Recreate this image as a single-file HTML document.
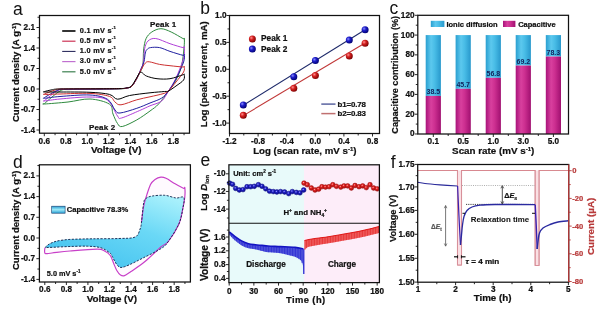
<!DOCTYPE html>
<html><head><meta charset="utf-8"><style>
html,body{margin:0;padding:0;background:#fff;width:600px;height:309px;overflow:hidden}
svg{display:block;font-family:"Liberation Sans", sans-serif;will-change:transform}
</style></head><body>
<svg width="600" height="309" viewBox="0 0 600 309">
<rect x="0" y="0" width="600" height="309" fill="#fff"/>
<text x="17.9" y="15.3" font-size="17.5" text-anchor="middle" font-weight="normal" fill="#111" style="">a</text>
<rect x="39.5" y="15.5" width="150.0" height="117.69999999999999" fill="none" stroke="#111" stroke-width="1.25" />
<line x1="36.5" y1="27.5" x2="39.5" y2="27.5" stroke="#111" stroke-width="0.9" />
<text x="35.0" y="30.0" font-size="8.2" text-anchor="end" font-weight="bold" fill="#111" stroke="#111" stroke-width="0.22" style="">2.1</text>
<line x1="36.5" y1="48.0" x2="39.5" y2="48.0" stroke="#111" stroke-width="0.9" />
<text x="35.0" y="50.5" font-size="8.2" text-anchor="end" font-weight="bold" fill="#111" stroke="#111" stroke-width="0.22" style="">1.4</text>
<line x1="36.5" y1="68.5" x2="39.5" y2="68.5" stroke="#111" stroke-width="0.9" />
<text x="35.0" y="71.0" font-size="8.2" text-anchor="end" font-weight="bold" fill="#111" stroke="#111" stroke-width="0.22" style="">0.7</text>
<line x1="36.5" y1="89.0" x2="39.5" y2="89.0" stroke="#111" stroke-width="0.9" />
<text x="35.0" y="91.5" font-size="8.2" text-anchor="end" font-weight="bold" fill="#111" stroke="#111" stroke-width="0.22" style="">0.0</text>
<line x1="36.5" y1="109.5" x2="39.5" y2="109.5" stroke="#111" stroke-width="0.9" />
<text x="35.0" y="112.0" font-size="8.2" text-anchor="end" font-weight="bold" fill="#111" stroke="#111" stroke-width="0.22" style="">-0.7</text>
<line x1="36.5" y1="130.0" x2="39.5" y2="130.0" stroke="#111" stroke-width="0.9" />
<text x="35.0" y="132.5" font-size="8.2" text-anchor="end" font-weight="bold" fill="#111" stroke="#111" stroke-width="0.22" style="">-1.4</text>
<line x1="37.5" y1="17.25" x2="39.5" y2="17.25" stroke="#111" stroke-width="0.9" />
<line x1="37.5" y1="37.75" x2="39.5" y2="37.75" stroke="#111" stroke-width="0.9" />
<line x1="37.5" y1="58.25" x2="39.5" y2="58.25" stroke="#111" stroke-width="0.9" />
<line x1="37.5" y1="78.75" x2="39.5" y2="78.75" stroke="#111" stroke-width="0.9" />
<line x1="37.5" y1="99.25" x2="39.5" y2="99.25" stroke="#111" stroke-width="0.9" />
<line x1="37.5" y1="119.75" x2="39.5" y2="119.75" stroke="#111" stroke-width="0.9" />
<line x1="44.3" y1="133.2" x2="44.3" y2="136.2" stroke="#111" stroke-width="0.9" />
<text x="44.3" y="143.8" font-size="8.2" text-anchor="middle" font-weight="bold" fill="#111" stroke="#111" stroke-width="0.22" style="">0.6</text>
<line x1="55.05" y1="133.2" x2="55.05" y2="135.2" stroke="#111" stroke-width="0.9" />
<line x1="65.8" y1="133.2" x2="65.8" y2="136.2" stroke="#111" stroke-width="0.9" />
<text x="65.8" y="143.8" font-size="8.2" text-anchor="middle" font-weight="bold" fill="#111" stroke="#111" stroke-width="0.22" style="">0.8</text>
<line x1="76.55" y1="133.2" x2="76.55" y2="135.2" stroke="#111" stroke-width="0.9" />
<line x1="87.3" y1="133.2" x2="87.3" y2="136.2" stroke="#111" stroke-width="0.9" />
<text x="87.3" y="143.8" font-size="8.2" text-anchor="middle" font-weight="bold" fill="#111" stroke="#111" stroke-width="0.22" style="">1.0</text>
<line x1="98.05" y1="133.2" x2="98.05" y2="135.2" stroke="#111" stroke-width="0.9" />
<line x1="108.8" y1="133.2" x2="108.8" y2="136.2" stroke="#111" stroke-width="0.9" />
<text x="108.8" y="143.8" font-size="8.2" text-anchor="middle" font-weight="bold" fill="#111" stroke="#111" stroke-width="0.22" style="">1.2</text>
<line x1="119.55" y1="133.2" x2="119.55" y2="135.2" stroke="#111" stroke-width="0.9" />
<line x1="130.3" y1="133.2" x2="130.3" y2="136.2" stroke="#111" stroke-width="0.9" />
<text x="130.3" y="143.8" font-size="8.2" text-anchor="middle" font-weight="bold" fill="#111" stroke="#111" stroke-width="0.22" style="">1.4</text>
<line x1="141.05" y1="133.2" x2="141.05" y2="135.2" stroke="#111" stroke-width="0.9" />
<line x1="151.8" y1="133.2" x2="151.8" y2="136.2" stroke="#111" stroke-width="0.9" />
<text x="151.8" y="143.8" font-size="8.2" text-anchor="middle" font-weight="bold" fill="#111" stroke="#111" stroke-width="0.22" style="">1.6</text>
<line x1="162.55" y1="133.2" x2="162.55" y2="135.2" stroke="#111" stroke-width="0.9" />
<line x1="173.3" y1="133.2" x2="173.3" y2="136.2" stroke="#111" stroke-width="0.9" />
<text x="173.3" y="143.8" font-size="8.2" text-anchor="middle" font-weight="bold" fill="#111" stroke="#111" stroke-width="0.22" style="">1.8</text>
<line x1="184.05" y1="133.2" x2="184.05" y2="135.2" stroke="#111" stroke-width="0.9" />
<text x="116.3" y="153.0" font-size="9.8" text-anchor="middle" font-weight="bold" fill="#111" stroke="#111" stroke-width="0.22" style="">Voltage (V)</text>
<text x="19.0" y="72.3" font-size="9.5" text-anchor="middle" font-weight="bold" fill="#111" stroke="#111" stroke-width="0.22" transform="rotate(-90 19.0 72.3)" style="">Current density (A g<tspan font-size="62%" baseline-shift="55%">-1</tspan>)</text>
<line x1="62.2" y1="31.0" x2="75.5" y2="31.0" stroke="#000" stroke-width="1.6" />
<text x="79.8" y="32.8" font-size="7.3" text-anchor="start" font-weight="bold" fill="#111" stroke="#111" stroke-width="0.22" style="letter-spacing:0.3px">0.1 mV s<tspan font-size="58%" baseline-shift="100%">-1</tspan></text>
<line x1="62.2" y1="41.2" x2="75.5" y2="41.2" stroke="#cc3355" stroke-width="1.2" />
<text x="79.8" y="43.0" font-size="7.3" text-anchor="start" font-weight="bold" fill="#111" stroke="#111" stroke-width="0.22" style="letter-spacing:0.3px">0.5 mV s<tspan font-size="58%" baseline-shift="100%">-1</tspan></text>
<line x1="62.2" y1="51.4" x2="75.5" y2="51.4" stroke="#1a1a50" stroke-width="1.0" />
<text x="79.8" y="53.199999999999996" font-size="7.3" text-anchor="start" font-weight="bold" fill="#111" stroke="#111" stroke-width="0.22" style="letter-spacing:0.3px">1.0 mV s<tspan font-size="58%" baseline-shift="100%">-1</tspan></text>
<line x1="62.2" y1="61.599999999999994" x2="75.5" y2="61.599999999999994" stroke="#c070d0" stroke-width="1.2" />
<text x="79.8" y="63.39999999999999" font-size="7.3" text-anchor="start" font-weight="bold" fill="#111" stroke="#111" stroke-width="0.22" style="letter-spacing:0.3px">3.0 mV s<tspan font-size="58%" baseline-shift="100%">-1</tspan></text>
<line x1="62.2" y1="71.8" x2="75.5" y2="71.8" stroke="#3c8050" stroke-width="1.2" />
<text x="79.8" y="73.6" font-size="7.3" text-anchor="start" font-weight="bold" fill="#111" stroke="#111" stroke-width="0.22" style="letter-spacing:0.3px">5.0 mV s<tspan font-size="58%" baseline-shift="100%">-1</tspan></text>
<text x="163.2" y="26.7" font-size="8" text-anchor="middle" font-weight="bold" fill="#111" stroke="#111" stroke-width="0.22" style="letter-spacing:0.2px">Peak 1</text>
<text x="102.2" y="129.6" font-size="8" text-anchor="middle" font-weight="bold" fill="#111" stroke="#111" stroke-width="0.22" style="letter-spacing:0.2px">Peak 2</text>
<path d="M44.50,103.50 C47.08,101.42 55.75,93.32 60.00,91.00 C64.25,88.68 63.33,89.90 70.00,89.60 C76.67,89.30 91.50,89.33 100.00,89.20 C108.50,89.07 116.50,89.00 121.00,88.80 C125.50,88.60 125.17,88.47 127.00,88.00 C128.83,87.53 130.33,87.67 132.00,86.00 C133.67,84.33 135.50,80.58 137.00,78.00 C138.50,75.42 140.05,72.50 141.00,70.50 C141.95,68.50 142.32,68.08 142.70,66.00 C143.08,63.92 143.13,60.85 143.30,58.00 C143.47,55.15 143.23,52.15 143.70,48.90 C144.17,45.65 144.75,41.32 146.10,38.50 C147.45,35.68 149.33,33.63 151.80,32.00 C154.27,30.37 157.67,28.70 160.90,28.70 C164.13,28.70 167.53,30.37 171.20,32.00 C174.87,33.63 180.72,37.42 182.90,38.50 C185.08,39.58 184.12,36.92 184.30,38.50 C184.48,40.08 184.47,43.42 184.00,48.00 C183.53,52.58 182.83,60.67 181.50,66.00 C180.17,71.33 178.17,75.83 176.00,80.00 C173.83,84.17 171.38,87.02 168.50,91.00 C165.62,94.98 161.78,100.57 158.70,103.90 C155.62,107.23 153.65,108.33 150.00,111.00 C146.35,113.67 141.42,117.32 136.80,119.90 C132.18,122.48 125.52,125.90 122.30,126.50 C119.08,127.10 119.05,125.58 117.50,123.50 C115.95,121.42 114.35,117.23 113.00,114.00 C111.65,110.77 113.23,106.60 109.40,104.10 C105.57,101.60 96.90,99.35 90.00,99.00 C83.10,98.65 75.58,101.17 68.00,102.00 C60.42,102.83 48.42,103.75 44.50,104.00 C40.58,104.25 44.50,103.58 44.50,103.50" stroke="#2e8a3e" stroke-width="1.0" fill="none" stroke-linejoin="round" />
<path d="M44.50,100.50 C46.75,98.83 54.08,92.35 58.00,90.50 C61.92,88.65 61.00,89.65 68.00,89.40 C75.00,89.15 91.17,89.13 100.00,89.00 C108.83,88.87 116.50,88.77 121.00,88.60 C125.50,88.43 125.17,88.43 127.00,88.00 C128.83,87.57 130.33,87.67 132.00,86.00 C133.67,84.33 135.50,80.83 137.00,78.00 C138.50,75.17 139.92,71.70 141.00,69.00 C142.08,66.30 142.90,65.15 143.50,61.80 C144.10,58.45 143.87,52.35 144.60,48.90 C145.33,45.45 146.05,42.83 147.90,41.10 C149.75,39.37 152.02,38.07 155.70,38.50 C159.38,38.93 165.47,42.18 170.00,43.70 C174.53,45.22 180.53,47.05 182.90,47.60 C185.27,48.15 184.08,45.27 184.20,47.00 C184.32,48.73 184.97,52.83 183.60,58.00 C182.23,63.17 178.52,72.50 176.00,78.00 C173.48,83.50 170.90,87.17 168.50,91.00 C166.10,94.83 164.68,98.53 161.60,101.00 C158.52,103.47 153.65,104.22 150.00,105.80 C146.35,107.38 144.45,108.47 139.70,110.50 C134.95,112.53 125.20,117.08 121.50,118.00 C117.80,118.92 119.83,118.97 117.50,116.00 C115.17,113.03 112.08,103.37 107.50,100.20 C102.92,97.03 97.92,97.20 90.00,97.00 C82.08,96.80 67.58,98.33 60.00,99.00 C52.42,99.67 47.08,100.75 44.50,101.00 C41.92,101.25 44.50,100.58 44.50,100.50" stroke="#b040d8" stroke-width="1.0" fill="none" stroke-linejoin="round" />
<path d="M44.50,97.50 C46.75,96.25 54.42,91.38 58.00,90.00 C61.58,88.62 59.00,89.37 66.00,89.20 C73.00,89.03 90.83,89.10 100.00,89.00 C109.17,88.90 116.50,88.77 121.00,88.60 C125.50,88.43 125.17,88.43 127.00,88.00 C128.83,87.57 130.33,87.67 132.00,86.00 C133.67,84.33 135.50,80.83 137.00,78.00 C138.50,75.17 139.83,71.70 141.00,69.00 C142.17,66.30 143.28,64.47 144.00,61.80 C144.72,59.13 144.80,55.05 145.30,53.00 C145.80,50.95 146.13,50.40 147.00,49.50 C147.87,48.60 148.40,47.92 150.50,47.60 C152.60,47.28 156.35,46.97 159.60,47.60 C162.85,48.23 166.12,50.12 170.00,51.40 C173.88,52.68 180.53,54.78 182.90,55.30 C185.27,55.82 184.08,53.38 184.20,54.50 C184.32,55.62 184.97,57.92 183.60,62.00 C182.23,66.08 178.52,74.17 176.00,79.00 C173.48,83.83 170.90,87.82 168.50,91.00 C166.10,94.18 164.68,96.10 161.60,98.10 C158.52,100.10 154.13,101.30 150.00,103.00 C145.87,104.70 141.80,106.63 136.80,108.30 C131.80,109.97 123.63,112.72 120.00,113.00 C116.37,113.28 117.08,112.28 115.00,110.00 C112.92,107.72 111.67,101.80 107.50,99.30 C103.33,96.80 97.92,95.47 90.00,95.00 C82.08,94.53 67.58,95.95 60.00,96.50 C52.42,97.05 47.08,98.13 44.50,98.30 C41.92,98.47 44.50,97.63 44.50,97.50" stroke="#2020a0" stroke-width="1.0" fill="none" stroke-linejoin="round" />
<path d="M44.50,94.00 C46.25,93.33 52.08,90.83 55.00,90.00 C57.92,89.17 54.50,89.20 62.00,89.00 C69.50,88.80 90.17,88.87 100.00,88.80 C109.83,88.73 116.50,88.73 121.00,88.60 C125.50,88.47 125.17,88.43 127.00,88.00 C128.83,87.57 130.33,87.67 132.00,86.00 C133.67,84.33 135.50,80.67 137.00,78.00 C138.50,75.33 139.62,72.48 141.00,70.00 C142.38,67.52 143.93,64.47 145.30,63.10 C146.67,61.73 146.82,61.58 149.20,61.80 C151.58,62.02 156.13,63.75 159.60,64.40 C163.07,65.05 166.12,65.27 170.00,65.70 C173.88,66.13 180.53,66.87 182.90,67.00 C185.27,67.13 184.08,65.67 184.20,66.50 C184.32,67.33 184.97,69.42 183.60,72.00 C182.23,74.58 178.52,78.83 176.00,82.00 C173.48,85.17 170.67,89.05 168.50,91.00 C166.33,92.95 166.08,92.73 163.00,93.70 C159.92,94.67 154.37,95.78 150.00,96.80 C145.63,97.82 141.63,98.47 136.80,99.80 C131.97,101.13 124.63,104.43 121.00,104.80 C117.37,105.17 116.93,103.40 115.00,102.00 C113.07,100.60 113.57,97.83 109.40,96.40 C105.23,94.97 98.23,93.80 90.00,93.40 C81.77,93.00 67.58,93.82 60.00,94.00 C52.42,94.18 47.08,94.50 44.50,94.50 C41.92,94.50 44.50,94.08 44.50,94.00" stroke="#cc3030" stroke-width="1.0" fill="none" stroke-linejoin="round" />
<path d="M44.50,91.50 C45.75,91.22 49.42,90.22 52.00,89.80 C54.58,89.38 52.00,89.17 60.00,89.00 C68.00,88.83 90.00,88.87 100.00,88.80 C110.00,88.73 115.67,88.73 120.00,88.60 C124.33,88.47 124.15,88.35 126.00,88.00 C127.85,87.65 129.43,88.00 131.10,86.50 C132.77,85.00 134.48,81.38 136.00,79.00 C137.52,76.62 139.03,73.12 140.20,72.20 C141.37,71.28 141.93,72.85 143.00,73.50 C144.07,74.15 144.27,75.23 146.60,76.10 C148.93,76.97 153.10,78.27 157.00,78.70 C160.90,79.13 165.68,79.35 170.00,78.70 C174.32,78.05 180.53,75.50 182.90,74.80 C185.27,74.10 184.08,73.63 184.20,74.50 C184.32,75.37 184.97,78.08 183.60,80.00 C182.23,81.92 178.52,84.17 176.00,86.00 C173.48,87.83 170.42,90.08 168.50,91.00 C166.58,91.92 167.58,91.20 164.50,91.50 C161.42,91.80 155.82,92.13 150.00,92.80 C144.18,93.47 135.02,94.43 129.60,95.50 C124.18,96.57 120.87,99.38 117.50,99.20 C114.13,99.02 113.98,95.55 109.40,94.40 C104.82,93.25 98.23,92.70 90.00,92.30 C81.77,91.90 67.58,92.05 60.00,92.00 C52.42,91.95 47.08,92.08 44.50,92.00 C41.92,91.92 44.50,91.58 44.50,91.50" stroke="#000" stroke-width="1.0" fill="none" stroke-linejoin="round" />
<text x="205.0" y="14.0" font-size="17.5" text-anchor="middle" font-weight="normal" fill="#111" style="">b</text>
<rect x="229.5" y="15.5" width="150.0" height="118.0" fill="none" stroke="#111" stroke-width="1.25" />
<line x1="226.5" y1="15.5" x2="229.5" y2="15.5" stroke="#111" stroke-width="0.9" />
<text x="226.5" y="18.0" font-size="8.2" text-anchor="end" font-weight="bold" fill="#111" stroke="#111" stroke-width="0.22" style="">1.0</text>
<line x1="226.5" y1="42.4" x2="229.5" y2="42.4" stroke="#111" stroke-width="0.9" />
<text x="226.5" y="44.9" font-size="8.2" text-anchor="end" font-weight="bold" fill="#111" stroke="#111" stroke-width="0.22" style="">0.5</text>
<line x1="226.5" y1="69.3" x2="229.5" y2="69.3" stroke="#111" stroke-width="0.9" />
<text x="226.5" y="71.8" font-size="8.2" text-anchor="end" font-weight="bold" fill="#111" stroke="#111" stroke-width="0.22" style="">0.0</text>
<line x1="226.5" y1="96.19999999999999" x2="229.5" y2="96.19999999999999" stroke="#111" stroke-width="0.9" />
<text x="226.5" y="98.69999999999999" font-size="8.2" text-anchor="end" font-weight="bold" fill="#111" stroke="#111" stroke-width="0.22" style="">-0.5</text>
<line x1="226.5" y1="123.1" x2="229.5" y2="123.1" stroke="#111" stroke-width="0.9" />
<text x="226.5" y="125.6" font-size="8.2" text-anchor="end" font-weight="bold" fill="#111" stroke="#111" stroke-width="0.22" style="">-1.0</text>
<line x1="227.5" y1="28.95" x2="229.5" y2="28.95" stroke="#111" stroke-width="0.9" />
<line x1="227.5" y1="55.849999999999994" x2="229.5" y2="55.849999999999994" stroke="#111" stroke-width="0.9" />
<line x1="227.5" y1="82.75" x2="229.5" y2="82.75" stroke="#111" stroke-width="0.9" />
<line x1="227.5" y1="109.64999999999999" x2="229.5" y2="109.64999999999999" stroke="#111" stroke-width="0.9" />
<line x1="229.5" y1="133.5" x2="229.5" y2="136.5" stroke="#111" stroke-width="0.9" />
<text x="229.5" y="143.8" font-size="8.2" text-anchor="middle" font-weight="bold" fill="#111" stroke="#111" stroke-width="0.22" style="">-1.2</text>
<line x1="258.1" y1="133.5" x2="258.1" y2="136.5" stroke="#111" stroke-width="0.9" />
<text x="258.1" y="143.8" font-size="8.2" text-anchor="middle" font-weight="bold" fill="#111" stroke="#111" stroke-width="0.22" style="">-0.8</text>
<line x1="286.7" y1="133.5" x2="286.7" y2="136.5" stroke="#111" stroke-width="0.9" />
<text x="286.7" y="143.8" font-size="8.2" text-anchor="middle" font-weight="bold" fill="#111" stroke="#111" stroke-width="0.22" style="">-0.4</text>
<line x1="315.3" y1="133.5" x2="315.3" y2="136.5" stroke="#111" stroke-width="0.9" />
<text x="315.3" y="143.8" font-size="8.2" text-anchor="middle" font-weight="bold" fill="#111" stroke="#111" stroke-width="0.22" style="">0.0</text>
<line x1="343.9" y1="133.5" x2="343.9" y2="136.5" stroke="#111" stroke-width="0.9" />
<text x="343.9" y="143.8" font-size="8.2" text-anchor="middle" font-weight="bold" fill="#111" stroke="#111" stroke-width="0.22" style="">0.4</text>
<line x1="372.5" y1="133.5" x2="372.5" y2="136.5" stroke="#111" stroke-width="0.9" />
<text x="372.5" y="143.8" font-size="8.2" text-anchor="middle" font-weight="bold" fill="#111" stroke="#111" stroke-width="0.22" style="">0.8</text>
<line x1="243.8" y1="133.5" x2="243.8" y2="135.5" stroke="#111" stroke-width="0.9" />
<line x1="272.4" y1="133.5" x2="272.4" y2="135.5" stroke="#111" stroke-width="0.9" />
<line x1="301.0" y1="133.5" x2="301.0" y2="135.5" stroke="#111" stroke-width="0.9" />
<line x1="329.6" y1="133.5" x2="329.6" y2="135.5" stroke="#111" stroke-width="0.9" />
<line x1="358.20000000000005" y1="133.5" x2="358.20000000000005" y2="135.5" stroke="#111" stroke-width="0.9" />
<text x="304.8" y="153.8" font-size="9.7" text-anchor="middle" font-weight="bold" fill="#111" stroke="#111" stroke-width="0.22" style="">Log (scan rate, mV s<tspan font-size="62%" baseline-shift="55%">-1</tspan>)</text>
<text x="206.8" y="74.2" font-size="9.7" text-anchor="middle" font-weight="bold" fill="#111" stroke="#111" stroke-width="0.22" transform="rotate(-90 206.8 74.2)" style="">Log (peak current, mA)</text>
<line x1="243.3" y1="105.2" x2="365.1" y2="29.7" stroke="#1e2a6a" stroke-width="1.1" />
<line x1="243.3" y1="115.6" x2="365.1" y2="43.0" stroke="#c03636" stroke-width="1.1" />
<defs><radialGradient id="gr" cx="0.35" cy="0.35" r="0.7"><stop offset="0" stop-color="#ff9090"/><stop offset="0.4" stop-color="#d42020"/><stop offset="1" stop-color="#7a0000"/></radialGradient><radialGradient id="gb" cx="0.35" cy="0.35" r="0.7"><stop offset="0" stop-color="#8a8aff"/><stop offset="0.4" stop-color="#1c1cc8"/><stop offset="1" stop-color="#000070"/></radialGradient></defs>
<circle cx="243.3" cy="115.3" r="3.5" fill="url(#gr)"/>
<circle cx="293.8" cy="88.3" r="3.5" fill="url(#gr)"/>
<circle cx="315.4" cy="75.5" r="3.5" fill="url(#gr)"/>
<circle cx="349.3" cy="55.9" r="3.5" fill="url(#gr)"/>
<circle cx="365.1" cy="43.2" r="3.5" fill="url(#gr)"/>
<circle cx="243.3" cy="104.9" r="3.5" fill="url(#gb)"/>
<circle cx="293.8" cy="76.7" r="3.5" fill="url(#gb)"/>
<circle cx="315.4" cy="60.5" r="3.5" fill="url(#gb)"/>
<circle cx="349.3" cy="40.1" r="3.5" fill="url(#gb)"/>
<circle cx="365.1" cy="29.7" r="3.5" fill="url(#gb)"/>
<circle cx="252.4" cy="38.9" r="3.5" fill="url(#gr)"/>
<circle cx="252.4" cy="49.1" r="3.5" fill="url(#gb)"/>
<text x="261.0" y="41.3" font-size="8.3" text-anchor="start" font-weight="bold" fill="#111" stroke="#111" stroke-width="0.22" style="">Peak 1</text>
<text x="261.0" y="51.5" font-size="8.3" text-anchor="start" font-weight="bold" fill="#111" stroke="#111" stroke-width="0.22" style="">Peak 2</text>
<line x1="321.3" y1="104.1" x2="335.5" y2="104.1" stroke="#5a64a0" stroke-width="1.5" />
<line x1="321.3" y1="113.6" x2="335.5" y2="113.6" stroke="#c07070" stroke-width="1.5" />
<text x="337.6" y="106.6" font-size="7.9" text-anchor="start" font-weight="bold" fill="#111" stroke="#111" stroke-width="0.22" style="letter-spacing:-0.15px">b1=0.78</text>
<text x="337.6" y="116.1" font-size="7.9" text-anchor="start" font-weight="bold" fill="#111" stroke="#111" stroke-width="0.22" style="letter-spacing:-0.15px">b2=0.83</text>
<text x="393.9" y="14.0" font-size="17.5" text-anchor="middle" font-weight="normal" fill="#111" style="">c</text>
<defs><linearGradient id="cb" x1="0" x2="1" y1="0" y2="0"><stop offset="0" stop-color="#2a9fd0"/><stop offset="0.35" stop-color="#5cc8ee"/><stop offset="0.6" stop-color="#48bce6"/><stop offset="1" stop-color="#2898cc"/></linearGradient><linearGradient id="cp" x1="0" x2="1" y1="0" y2="0"><stop offset="0" stop-color="#a8127a"/><stop offset="0.35" stop-color="#d8409e"/><stop offset="0.6" stop-color="#cc2e90"/><stop offset="1" stop-color="#a01070"/></linearGradient></defs>
<rect x="425.7" y="35.08333333333334" width="15.2" height="60.833749999999995" fill="url(#cb)"/>
<rect x="425.7" y="95.91708333333334" width="15.2" height="38.08291666666666" fill="url(#cp)"/>
<text x="433.3" y="94.41708333333334" font-size="7" text-anchor="middle" font-weight="bold" fill="#10205a" style="">38.5</text>
<rect x="455.59999999999997" y="35.08333333333334" width="15.2" height="53.711749999999995" fill="url(#cb)"/>
<rect x="455.59999999999997" y="88.79508333333334" width="15.2" height="45.20491666666666" fill="url(#cp)"/>
<text x="463.2" y="87.29508333333334" font-size="7" text-anchor="middle" font-weight="bold" fill="#10205a" style="">45.7</text>
<rect x="485.7" y="35.08333333333334" width="15.2" height="42.732" fill="url(#cb)"/>
<rect x="485.7" y="77.81533333333334" width="15.2" height="56.18466666666666" fill="url(#cp)"/>
<text x="493.3" y="76.31533333333334" font-size="7" text-anchor="middle" font-weight="bold" fill="#10205a" style="">56.8</text>
<rect x="515.6999999999999" y="35.08333333333334" width="15.2" height="30.466333333333324" fill="url(#cb)"/>
<rect x="515.6999999999999" y="65.54966666666667" width="15.2" height="68.45033333333333" fill="url(#cp)"/>
<text x="523.3" y="64.04966666666667" font-size="7" text-anchor="middle" font-weight="bold" fill="#10205a" style="">69.2</text>
<rect x="545.8" y="35.08333333333334" width="15.2" height="21.464916666666667" fill="url(#cb)"/>
<rect x="545.8" y="56.54825000000001" width="15.2" height="77.45174999999999" fill="url(#cp)"/>
<text x="553.4" y="55.04825000000001" font-size="7" text-anchor="middle" font-weight="bold" fill="#10205a" style="">78.3</text>
<rect x="417.8" y="15.3" width="150.7" height="118.7" fill="none" stroke="#111" stroke-width="1.25" />
<line x1="414.8" y1="15.3" x2="417.8" y2="15.3" stroke="#111" stroke-width="0.9" />
<text x="414.5" y="17.8" font-size="8.2" text-anchor="end" font-weight="bold" fill="#111" stroke="#111" stroke-width="0.22" style="">120</text>
<line x1="414.8" y1="35.08" x2="417.8" y2="35.08" stroke="#111" stroke-width="0.9" />
<text x="414.5" y="37.58" font-size="8.2" text-anchor="end" font-weight="bold" fill="#111" stroke="#111" stroke-width="0.22" style="">100</text>
<line x1="414.8" y1="54.86" x2="417.8" y2="54.86" stroke="#111" stroke-width="0.9" />
<text x="414.5" y="57.36" font-size="8.2" text-anchor="end" font-weight="bold" fill="#111" stroke="#111" stroke-width="0.22" style="">80</text>
<line x1="414.8" y1="74.64" x2="417.8" y2="74.64" stroke="#111" stroke-width="0.9" />
<text x="414.5" y="77.14" font-size="8.2" text-anchor="end" font-weight="bold" fill="#111" stroke="#111" stroke-width="0.22" style="">60</text>
<line x1="414.8" y1="94.42" x2="417.8" y2="94.42" stroke="#111" stroke-width="0.9" />
<text x="414.5" y="96.92" font-size="8.2" text-anchor="end" font-weight="bold" fill="#111" stroke="#111" stroke-width="0.22" style="">40</text>
<line x1="414.8" y1="114.2" x2="417.8" y2="114.2" stroke="#111" stroke-width="0.9" />
<text x="414.5" y="116.7" font-size="8.2" text-anchor="end" font-weight="bold" fill="#111" stroke="#111" stroke-width="0.22" style="">20</text>
<line x1="414.8" y1="133.98000000000002" x2="417.8" y2="133.98000000000002" stroke="#111" stroke-width="0.9" />
<text x="414.5" y="136.48000000000002" font-size="8.2" text-anchor="end" font-weight="bold" fill="#111" stroke="#111" stroke-width="0.22" style="">0</text>
<line x1="415.8" y1="25.19" x2="417.8" y2="25.19" stroke="#111" stroke-width="0.9" />
<line x1="415.8" y1="44.97" x2="417.8" y2="44.97" stroke="#111" stroke-width="0.9" />
<line x1="415.8" y1="64.75" x2="417.8" y2="64.75" stroke="#111" stroke-width="0.9" />
<line x1="415.8" y1="84.53" x2="417.8" y2="84.53" stroke="#111" stroke-width="0.9" />
<line x1="415.8" y1="104.31" x2="417.8" y2="104.31" stroke="#111" stroke-width="0.9" />
<line x1="415.8" y1="124.09" x2="417.8" y2="124.09" stroke="#111" stroke-width="0.9" />
<line x1="433.3" y1="134.0" x2="433.3" y2="137.0" stroke="#111" stroke-width="0.9" />
<text x="433.3" y="143.8" font-size="8.2" text-anchor="middle" font-weight="bold" fill="#111" stroke="#111" stroke-width="0.22" style="">0.1</text>
<line x1="463.2" y1="134.0" x2="463.2" y2="137.0" stroke="#111" stroke-width="0.9" />
<text x="463.2" y="143.8" font-size="8.2" text-anchor="middle" font-weight="bold" fill="#111" stroke="#111" stroke-width="0.22" style="">0.5</text>
<line x1="493.3" y1="134.0" x2="493.3" y2="137.0" stroke="#111" stroke-width="0.9" />
<text x="493.3" y="143.8" font-size="8.2" text-anchor="middle" font-weight="bold" fill="#111" stroke="#111" stroke-width="0.22" style="">1.0</text>
<line x1="523.3" y1="134.0" x2="523.3" y2="137.0" stroke="#111" stroke-width="0.9" />
<text x="523.3" y="143.8" font-size="8.2" text-anchor="middle" font-weight="bold" fill="#111" stroke="#111" stroke-width="0.22" style="">3.0</text>
<line x1="553.4" y1="134.0" x2="553.4" y2="137.0" stroke="#111" stroke-width="0.9" />
<text x="553.4" y="143.8" font-size="8.2" text-anchor="middle" font-weight="bold" fill="#111" stroke="#111" stroke-width="0.22" style="">5.0</text>
<line x1="448.2" y1="134.0" x2="448.2" y2="136.0" stroke="#111" stroke-width="0.9" />
<line x1="478.2" y1="134.0" x2="478.2" y2="136.0" stroke="#111" stroke-width="0.9" />
<line x1="508.3" y1="134.0" x2="508.3" y2="136.0" stroke="#111" stroke-width="0.9" />
<line x1="538.3" y1="134.0" x2="538.3" y2="136.0" stroke="#111" stroke-width="0.9" />
<text x="493.2" y="153.6" font-size="9.8" text-anchor="middle" font-weight="bold" fill="#111" stroke="#111" stroke-width="0.22" style="">Scan rate (mV s<tspan font-size="62%" baseline-shift="55%">-1</tspan>)</text>
<text x="397.6" y="74.8" font-size="9.1" text-anchor="middle" font-weight="bold" fill="#111" stroke="#111" stroke-width="0.22" transform="rotate(-90 397.6 74.8)" style="">Capacitive contribution (%)</text>
<rect x="430.8" y="20.8" width="13.6" height="6.2" fill="url(#cb)"/>
<text x="446.4" y="26.6" font-size="7.5" text-anchor="start" font-weight="bold" fill="#111" stroke="#111" stroke-width="0.22" style="">Ionic diffusion</text>
<rect x="503.0" y="20.8" width="12.4" height="6.2" fill="url(#cp)"/>
<text x="518.2" y="26.6" font-size="7.5" text-anchor="start" font-weight="bold" fill="#111" stroke="#111" stroke-width="0.22" style="">Capacitive</text>
<text x="17.9" y="168.4" font-size="17.5" text-anchor="middle" font-weight="normal" fill="#111" style="">d</text>
<defs><linearGradient id="dcy" x1="0.85" y1="0" x2="0.15" y2="1"><stop offset="0" stop-color="#a8f0fc"/><stop offset="0.4" stop-color="#6ad8f6"/><stop offset="1" stop-color="#40c0ee"/></linearGradient><linearGradient id="dleg" x1="0" y1="0" x2="0" y2="1"><stop offset="0" stop-color="#2a9ed4"/><stop offset="0.5" stop-color="#9eeaf8"/><stop offset="1" stop-color="#2a9ed4"/></linearGradient></defs>
<path d="M45.00,247.60 C45.67,247.03 47.33,245.20 49.00,244.20 C50.67,243.20 52.83,242.27 55.00,241.60 C57.17,240.93 59.17,240.58 62.00,240.20 C64.83,239.82 66.77,239.53 72.00,239.30 C77.23,239.07 85.57,238.93 93.40,238.80 C101.23,238.67 112.03,238.80 119.00,238.50 C125.97,238.20 131.68,238.58 135.20,237.00 C138.72,235.42 139.05,231.50 140.10,229.00 C141.15,226.50 140.93,225.67 141.50,222.00 C142.07,218.33 142.83,210.83 143.50,207.00 C144.17,203.17 144.33,202.75 145.50,199.00 C146.67,195.25 148.92,187.75 150.50,184.50 C152.08,181.25 153.27,180.72 155.00,179.50 C156.73,178.28 159.07,177.40 160.90,177.20 C162.73,177.00 163.63,177.22 166.00,178.30 C168.37,179.38 172.18,182.05 175.10,183.70 C178.02,185.35 181.88,187.52 183.50,188.20 C185.12,188.88 184.58,186.33 184.80,187.80 C185.02,189.27 185.13,193.52 184.80,197.00 C184.47,200.48 183.78,204.20 182.80,208.70 C181.82,213.20 181.32,218.53 178.90,224.00 C176.48,229.47 171.37,237.62 168.30,241.50 C165.23,245.38 164.38,243.97 160.50,247.30 C156.62,250.63 149.92,257.47 145.00,261.50 C140.08,265.53 134.42,269.15 131.00,271.50 C127.58,273.85 126.25,275.02 124.50,275.60 C122.75,276.18 121.78,275.85 120.50,275.00 C119.22,274.15 117.97,272.50 116.80,270.50 C115.63,268.50 114.58,265.50 113.50,263.00 C112.42,260.50 111.72,257.47 110.30,255.50 C108.88,253.53 107.17,252.25 105.00,251.20 C102.83,250.15 103.13,249.23 97.30,249.20 C91.47,249.17 77.55,250.37 70.00,251.00 C62.45,251.63 56.08,252.57 52.00,253.00 C47.92,253.43 46.73,253.93 45.50,253.60 C44.27,253.27 44.68,252.00 44.60,251.00 C44.52,250.00 44.93,248.17 45.00,247.60" fill="#fefafe" stroke="none"/>
<path d="M45.00,247.60 C45.67,247.03 47.33,245.20 49.00,244.20 C50.67,243.20 52.83,242.27 55.00,241.60 C57.17,240.93 59.17,240.58 62.00,240.20 C64.83,239.82 66.77,239.53 72.00,239.30 C77.23,239.07 85.57,238.93 93.40,238.80 C101.23,238.67 112.03,238.80 119.00,238.50 C125.97,238.20 131.68,238.58 135.20,237.00 C138.72,235.42 139.05,231.50 140.10,229.00 C141.15,226.50 140.93,226.17 141.50,222.00 C142.07,217.83 142.83,207.87 143.50,204.00 C144.17,200.13 144.12,200.12 145.50,198.80 C146.88,197.48 148.58,196.68 151.80,196.10 C155.02,195.52 160.77,194.98 164.80,195.30 C168.83,195.62 172.83,197.63 176.00,198.00 C179.17,198.37 182.67,195.72 183.80,197.50 C184.93,199.28 183.62,204.28 182.80,208.70 C181.98,213.12 181.32,218.53 178.90,224.00 C176.48,229.47 171.20,237.45 168.30,241.50 C165.40,245.55 165.38,245.72 161.50,248.30 C157.62,250.88 151.15,253.93 145.00,257.00 C138.85,260.07 129.13,265.25 124.60,266.70 C120.07,268.15 119.90,267.48 117.80,265.70 C115.70,263.92 113.30,258.10 112.00,256.00 C110.70,253.90 111.83,254.47 110.00,253.10 C108.17,251.73 104.75,248.95 101.00,247.80 C97.25,246.65 92.67,246.42 87.50,246.20 C82.33,245.98 75.42,246.33 70.00,246.50 C64.58,246.67 59.17,247.02 55.00,247.20 C50.83,247.38 46.67,247.53 45.00,247.60" fill="url(#dcy)" stroke="none"/>
<path d="M141.50,222.00 C141.83,219.50 142.83,210.83 143.50,207.00 C144.17,203.17 144.33,202.75 145.50,199.00 C146.67,195.25 148.92,187.75 150.50,184.50 C152.08,181.25 153.27,180.72 155.00,179.50 C156.73,178.28 159.07,177.40 160.90,177.20 C162.73,177.00 163.63,177.22 166.00,178.30 C168.37,179.38 172.18,182.05 175.10,183.70 C178.02,185.35 181.88,187.52 183.50,188.20 C185.12,188.88 184.58,186.33 184.80,187.80 C185.02,189.27 185.13,193.52 184.80,197.00 C184.47,200.48 183.78,204.20 182.80,208.70 C181.82,213.20 181.32,218.53 178.90,224.00 C176.48,229.47 171.37,237.62 168.30,241.50 C165.23,245.38 164.38,243.97 160.50,247.30 C156.62,250.63 149.92,257.47 145.00,261.50 C140.08,265.53 134.42,269.15 131.00,271.50 C127.58,273.85 126.25,275.02 124.50,275.60 C122.75,276.18 121.78,275.85 120.50,275.00 C119.22,274.15 117.97,272.50 116.80,270.50 C115.63,268.50 114.58,265.50 113.50,263.00 C112.42,260.50 111.72,257.47 110.30,255.50 C108.88,253.53 107.17,252.25 105.00,251.20 C102.83,250.15 103.13,249.23 97.30,249.20 C91.47,249.17 77.55,250.37 70.00,251.00 C62.45,251.63 56.08,252.57 52.00,253.00 C47.92,253.43 46.73,253.93 45.50,253.60 C44.27,253.27 44.68,252.00 44.60,251.00 C44.52,250.00 44.93,248.17 45.00,247.60" stroke="#c840c8" stroke-width="1.2" fill="none" stroke-linejoin="round" />
<path d="M45.00,247.60 C45.67,247.03 47.33,245.20 49.00,244.20 C50.67,243.20 52.83,242.27 55.00,241.60 C57.17,240.93 59.17,240.58 62.00,240.20 C64.83,239.82 66.77,239.53 72.00,239.30 C77.23,239.07 85.57,238.93 93.40,238.80 C101.23,238.67 112.03,238.80 119.00,238.50 C125.97,238.20 131.68,238.58 135.20,237.00 C138.72,235.42 139.05,231.50 140.10,229.00 C141.15,226.50 140.93,226.17 141.50,222.00 C142.07,217.83 142.83,207.87 143.50,204.00 C144.17,200.13 144.12,200.12 145.50,198.80 C146.88,197.48 148.58,196.68 151.80,196.10 C155.02,195.52 160.77,194.98 164.80,195.30 C168.83,195.62 172.83,197.63 176.00,198.00 C179.17,198.37 182.67,195.72 183.80,197.50 C184.93,199.28 183.62,204.28 182.80,208.70 C181.98,213.12 181.32,218.53 178.90,224.00 C176.48,229.47 171.20,237.45 168.30,241.50 C165.40,245.55 165.38,245.72 161.50,248.30 C157.62,250.88 151.15,253.93 145.00,257.00 C138.85,260.07 129.13,265.25 124.60,266.70 C120.07,268.15 119.90,267.48 117.80,265.70 C115.70,263.92 113.30,258.10 112.00,256.00 C110.70,253.90 111.83,254.47 110.00,253.10 C108.17,251.73 104.75,248.95 101.00,247.80 C97.25,246.65 92.67,246.42 87.50,246.20 C82.33,245.98 75.42,246.33 70.00,246.50 C64.58,246.67 59.17,247.02 55.00,247.20 C50.83,247.38 46.67,247.53 45.00,247.60" stroke="#10204a" stroke-width="0.9" fill="none" stroke-linejoin="round" stroke-dasharray="2.2,1.4"/>
<rect x="39.4" y="164.8" width="151.0" height="117.19999999999999" fill="none" stroke="#111" stroke-width="1.25" />
<line x1="36.4" y1="175.9" x2="39.4" y2="175.9" stroke="#111" stroke-width="0.9" />
<text x="35.0" y="178.4" font-size="8.2" text-anchor="end" font-weight="bold" fill="#111" stroke="#111" stroke-width="0.22" style="">2.1</text>
<line x1="36.4" y1="196.6" x2="39.4" y2="196.6" stroke="#111" stroke-width="0.9" />
<text x="35.0" y="199.1" font-size="8.2" text-anchor="end" font-weight="bold" fill="#111" stroke="#111" stroke-width="0.22" style="">1.4</text>
<line x1="36.4" y1="217.3" x2="39.4" y2="217.3" stroke="#111" stroke-width="0.9" />
<text x="35.0" y="219.8" font-size="8.2" text-anchor="end" font-weight="bold" fill="#111" stroke="#111" stroke-width="0.22" style="">0.7</text>
<line x1="36.4" y1="238.0" x2="39.4" y2="238.0" stroke="#111" stroke-width="0.9" />
<text x="35.0" y="240.5" font-size="8.2" text-anchor="end" font-weight="bold" fill="#111" stroke="#111" stroke-width="0.22" style="">0.0</text>
<line x1="36.4" y1="258.7" x2="39.4" y2="258.7" stroke="#111" stroke-width="0.9" />
<text x="35.0" y="261.2" font-size="8.2" text-anchor="end" font-weight="bold" fill="#111" stroke="#111" stroke-width="0.22" style="">-0.7</text>
<line x1="36.4" y1="279.4" x2="39.4" y2="279.4" stroke="#111" stroke-width="0.9" />
<text x="35.0" y="281.9" font-size="8.2" text-anchor="end" font-weight="bold" fill="#111" stroke="#111" stroke-width="0.22" style="">-1.4</text>
<line x1="37.4" y1="165.55" x2="39.4" y2="165.55" stroke="#111" stroke-width="0.9" />
<line x1="37.4" y1="186.25" x2="39.4" y2="186.25" stroke="#111" stroke-width="0.9" />
<line x1="37.4" y1="206.95000000000002" x2="39.4" y2="206.95000000000002" stroke="#111" stroke-width="0.9" />
<line x1="37.4" y1="227.65" x2="39.4" y2="227.65" stroke="#111" stroke-width="0.9" />
<line x1="37.4" y1="248.35000000000002" x2="39.4" y2="248.35000000000002" stroke="#111" stroke-width="0.9" />
<line x1="37.4" y1="269.05" x2="39.4" y2="269.05" stroke="#111" stroke-width="0.9" />
<line x1="44.8" y1="282.0" x2="44.8" y2="285.0" stroke="#111" stroke-width="0.9" />
<text x="44.8" y="291.8" font-size="8.2" text-anchor="middle" font-weight="bold" fill="#111" stroke="#111" stroke-width="0.22" style="">0.6</text>
<line x1="55.58" y1="282.0" x2="55.58" y2="284.0" stroke="#111" stroke-width="0.9" />
<line x1="66.36" y1="282.0" x2="66.36" y2="285.0" stroke="#111" stroke-width="0.9" />
<text x="66.36" y="291.8" font-size="8.2" text-anchor="middle" font-weight="bold" fill="#111" stroke="#111" stroke-width="0.22" style="">0.8</text>
<line x1="77.13999999999999" y1="282.0" x2="77.13999999999999" y2="284.0" stroke="#111" stroke-width="0.9" />
<line x1="87.91999999999999" y1="282.0" x2="87.91999999999999" y2="285.0" stroke="#111" stroke-width="0.9" />
<text x="87.91999999999999" y="291.8" font-size="8.2" text-anchor="middle" font-weight="bold" fill="#111" stroke="#111" stroke-width="0.22" style="">1.0</text>
<line x1="98.69999999999999" y1="282.0" x2="98.69999999999999" y2="284.0" stroke="#111" stroke-width="0.9" />
<line x1="109.47999999999999" y1="282.0" x2="109.47999999999999" y2="285.0" stroke="#111" stroke-width="0.9" />
<text x="109.47999999999999" y="291.8" font-size="8.2" text-anchor="middle" font-weight="bold" fill="#111" stroke="#111" stroke-width="0.22" style="">1.2</text>
<line x1="120.25999999999999" y1="282.0" x2="120.25999999999999" y2="284.0" stroke="#111" stroke-width="0.9" />
<line x1="131.04" y1="282.0" x2="131.04" y2="285.0" stroke="#111" stroke-width="0.9" />
<text x="131.04" y="291.8" font-size="8.2" text-anchor="middle" font-weight="bold" fill="#111" stroke="#111" stroke-width="0.22" style="">1.4</text>
<line x1="141.82" y1="282.0" x2="141.82" y2="284.0" stroke="#111" stroke-width="0.9" />
<line x1="152.6" y1="282.0" x2="152.6" y2="285.0" stroke="#111" stroke-width="0.9" />
<text x="152.6" y="291.8" font-size="8.2" text-anchor="middle" font-weight="bold" fill="#111" stroke="#111" stroke-width="0.22" style="">1.6</text>
<line x1="163.38" y1="282.0" x2="163.38" y2="284.0" stroke="#111" stroke-width="0.9" />
<line x1="174.15999999999997" y1="282.0" x2="174.15999999999997" y2="285.0" stroke="#111" stroke-width="0.9" />
<text x="174.15999999999997" y="291.8" font-size="8.2" text-anchor="middle" font-weight="bold" fill="#111" stroke="#111" stroke-width="0.22" style="">1.8</text>
<line x1="184.94" y1="282.0" x2="184.94" y2="284.0" stroke="#111" stroke-width="0.9" />
<text x="111.9" y="302.0" font-size="9.8" text-anchor="middle" font-weight="bold" fill="#111" stroke="#111" stroke-width="0.22" style="">Voltage (V)</text>
<text x="19.0" y="220.3" font-size="9.5" text-anchor="middle" font-weight="bold" fill="#111" stroke="#111" stroke-width="0.22" transform="rotate(-90 19.0 220.3)" style="">Current density (A g<tspan font-size="62%" baseline-shift="55%">-1</tspan>)</text>
<rect x="51.7" y="206.2" width="13.4" height="7" fill="url(#dleg)" stroke="#1c3c6c" stroke-width="0.6"/>
<text x="66.7" y="212.4" font-size="7.6" text-anchor="start" font-weight="bold" fill="#111" stroke="#111" stroke-width="0.22" style="">Capacitive 78.3%</text>
<text x="46.8" y="276.3" font-size="7.3" text-anchor="start" font-weight="bold" fill="#111" stroke="#111" stroke-width="0.22" style="">5.0 mV s<tspan font-size="62%" baseline-shift="55%">-1</tspan></text>
<text x="205.4" y="166.4" font-size="17.5" text-anchor="middle" font-weight="normal" fill="#111" style="">e</text>
<rect x="228.9" y="164.8" width="75.1" height="117.80000000000001" fill="#e8fafa"/>
<rect x="304" y="164.8" width="75.39999999999998" height="117.80000000000001" fill="#fdedf9"/>
<defs><radialGradient id="eb" cx="0.4" cy="0.38" r="0.65"><stop offset="0" stop-color="#a0a0ff"/><stop offset="0.35" stop-color="#2020c8"/><stop offset="1" stop-color="#0a0a80"/></radialGradient><radialGradient id="er" cx="0.4" cy="0.38" r="0.65"><stop offset="0" stop-color="#ffa0a0"/><stop offset="0.35" stop-color="#e02020"/><stop offset="1" stop-color="#a01010"/></radialGradient></defs>
<circle cx="229.6" cy="183.1" r="2.4" fill="url(#eb)" stroke="#10108a" stroke-width="0.5"/>
<circle cx="232.5" cy="184.3" r="2.4" fill="url(#eb)" stroke="#10108a" stroke-width="0.5"/>
<circle cx="235.7" cy="188.4" r="2.4" fill="url(#eb)" stroke="#10108a" stroke-width="0.5"/>
<circle cx="239.3" cy="190" r="2.4" fill="url(#eb)" stroke="#10108a" stroke-width="0.5"/>
<circle cx="243" cy="189.6" r="2.4" fill="url(#eb)" stroke="#10108a" stroke-width="0.5"/>
<circle cx="247" cy="186.7" r="2.4" fill="url(#eb)" stroke="#10108a" stroke-width="0.5"/>
<circle cx="250.7" cy="186.7" r="2.4" fill="url(#eb)" stroke="#10108a" stroke-width="0.5"/>
<circle cx="254.3" cy="186.3" r="2.4" fill="url(#eb)" stroke="#10108a" stroke-width="0.5"/>
<circle cx="258.4" cy="184.7" r="2.4" fill="url(#eb)" stroke="#10108a" stroke-width="0.5"/>
<circle cx="262" cy="186.3" r="2.4" fill="url(#eb)" stroke="#10108a" stroke-width="0.5"/>
<circle cx="265.7" cy="188.8" r="2.4" fill="url(#eb)" stroke="#10108a" stroke-width="0.5"/>
<circle cx="269.6" cy="191.2" r="2.4" fill="url(#eb)" stroke="#10108a" stroke-width="0.5"/>
<circle cx="273.3" cy="191.6" r="2.4" fill="url(#eb)" stroke="#10108a" stroke-width="0.5"/>
<circle cx="276.9" cy="192" r="2.4" fill="url(#eb)" stroke="#10108a" stroke-width="0.5"/>
<circle cx="280.6" cy="191.6" r="2.4" fill="url(#eb)" stroke="#10108a" stroke-width="0.5"/>
<circle cx="284.6" cy="192" r="2.4" fill="url(#eb)" stroke="#10108a" stroke-width="0.5"/>
<circle cx="288.7" cy="193.6" r="2.4" fill="url(#eb)" stroke="#10108a" stroke-width="0.5"/>
<circle cx="292.3" cy="191.6" r="2.4" fill="url(#eb)" stroke="#10108a" stroke-width="0.5"/>
<circle cx="296.4" cy="192.4" r="2.4" fill="url(#eb)" stroke="#10108a" stroke-width="0.5"/>
<circle cx="300" cy="192.8" r="2.4" fill="url(#eb)" stroke="#10108a" stroke-width="0.5"/>
<circle cx="303.7" cy="190" r="2.4" fill="url(#eb)" stroke="#10108a" stroke-width="0.5"/>
<circle cx="304" cy="183.1" r="2.4" fill="url(#er)" stroke="#a01010" stroke-width="0.5"/>
<circle cx="307.3" cy="184.7" r="2.4" fill="url(#er)" stroke="#a01010" stroke-width="0.5"/>
<circle cx="311.3" cy="188" r="2.4" fill="url(#er)" stroke="#a01010" stroke-width="0.5"/>
<circle cx="315" cy="190" r="2.4" fill="url(#er)" stroke="#a01010" stroke-width="0.5"/>
<circle cx="318.6" cy="189.2" r="2.4" fill="url(#er)" stroke="#a01010" stroke-width="0.5"/>
<circle cx="321.9" cy="186.7" r="2.4" fill="url(#er)" stroke="#a01010" stroke-width="0.5"/>
<circle cx="325.5" cy="187.1" r="2.4" fill="url(#er)" stroke="#a01010" stroke-width="0.5"/>
<circle cx="329.1" cy="186.7" r="2.4" fill="url(#er)" stroke="#a01010" stroke-width="0.5"/>
<circle cx="332.8" cy="184.7" r="2.4" fill="url(#er)" stroke="#a01010" stroke-width="0.5"/>
<circle cx="336.4" cy="186.3" r="2.4" fill="url(#er)" stroke="#a01010" stroke-width="0.5"/>
<circle cx="340.8" cy="187.1" r="2.4" fill="url(#er)" stroke="#a01010" stroke-width="0.5"/>
<circle cx="344" cy="185.9" r="2.4" fill="url(#er)" stroke="#a01010" stroke-width="0.5"/>
<circle cx="347.7" cy="185.9" r="2.4" fill="url(#er)" stroke="#a01010" stroke-width="0.5"/>
<circle cx="351.3" cy="188" r="2.4" fill="url(#er)" stroke="#a01010" stroke-width="0.5"/>
<circle cx="355" cy="185.5" r="2.4" fill="url(#er)" stroke="#a01010" stroke-width="0.5"/>
<circle cx="359" cy="186.7" r="2.4" fill="url(#er)" stroke="#a01010" stroke-width="0.5"/>
<circle cx="362.7" cy="185.9" r="2.4" fill="url(#er)" stroke="#a01010" stroke-width="0.5"/>
<circle cx="366.3" cy="187.6" r="2.4" fill="url(#er)" stroke="#a01010" stroke-width="0.5"/>
<circle cx="370" cy="184.7" r="2.4" fill="url(#er)" stroke="#a01010" stroke-width="0.5"/>
<circle cx="373.6" cy="188" r="2.4" fill="url(#er)" stroke="#a01010" stroke-width="0.5"/>
<circle cx="377.2" cy="188.8" r="2.4" fill="url(#er)" stroke="#a01010" stroke-width="0.5"/>
<path d="M229.10,231.80 C230.05,232.55 232.72,234.78 234.80,236.30 C236.88,237.82 239.33,239.67 241.60,240.90 C243.87,242.13 246.13,243.05 248.40,243.70 C250.67,244.35 252.93,244.52 255.20,244.80 C257.47,245.08 259.87,245.20 262.00,245.40 C264.13,245.60 264.90,245.80 268.00,246.00 C271.10,246.20 276.08,246.37 280.60,246.60 C285.12,246.83 291.35,247.03 295.10,247.40 C298.85,247.77 301.77,248.57 303.10,248.80 L304.00,274.00 C303.85,272.67 303.60,268.25 303.10,266.00 C302.60,263.75 302.33,262.03 301.00,260.50 C299.67,258.97 298.50,258.02 295.10,256.80 C291.70,255.58 285.12,253.97 280.60,253.20 C276.08,252.43 271.10,252.57 268.00,252.20 C264.90,251.83 264.13,251.48 262.00,251.00 C259.87,250.52 257.47,249.77 255.20,249.30 C252.93,248.83 250.67,248.85 248.40,248.20 C246.13,247.55 243.87,246.72 241.60,245.40 C239.33,244.08 236.88,242.10 234.80,240.30 C232.72,238.50 230.05,235.55 229.10,234.60 Z" fill="#2a2ad0" stroke="none" opacity="0.7"/>
<path d="M229.10,231.80 C230.05,232.55 232.72,234.78 234.80,236.30 C236.88,237.82 239.33,239.67 241.60,240.90 C243.87,242.13 246.13,243.05 248.40,243.70 C250.67,244.35 252.93,244.52 255.20,244.80 C257.47,245.08 259.87,245.20 262.00,245.40 C264.13,245.60 264.90,245.80 268.00,246.00 C271.10,246.20 276.08,246.37 280.60,246.60 C285.12,246.83 291.35,247.03 295.10,247.40 C298.85,247.77 301.77,248.57 303.10,248.80" stroke="#1414c0" stroke-width="1.6" fill="none" stroke-linejoin="round" />
<line x1="230.0" y1="232.51052631566483" x2="230.0" y2="235.49999999984212" stroke="#1a1ad0" stroke-width="0.7" />
<line x1="231.6" y1="233.77368421018005" x2="231.6" y2="237.0999999995614" stroke="#1a1ad0" stroke-width="0.7" />
<line x1="233.2" y1="235.0368421046953" x2="233.2" y2="238.6999999992807" stroke="#1a1ad0" stroke-width="0.7" />
<line x1="234.79999999999998" y1="236.2999999992105" x2="234.79999999999998" y2="240.299999999" stroke="#1a1ad0" stroke-width="0.7" />
<line x1="236.39999999999998" y1="237.3823529410173" x2="236.39999999999998" y2="241.49999999982353" stroke="#1a1ad0" stroke-width="0.7" />
<line x1="237.99999999999997" y1="238.4647058820346" x2="237.99999999999997" y2="242.69999999964705" stroke="#1a1ad0" stroke-width="0.7" />
<line x1="239.59999999999997" y1="239.54705882305188" x2="239.59999999999997" y2="243.89999999947057" stroke="#1a1ad0" stroke-width="0.7" />
<line x1="241.19999999999996" y1="240.62941176406918" x2="241.19999999999996" y2="245.09999999929408" stroke="#1a1ad0" stroke-width="0.7" />
<line x1="242.79999999999995" y1="241.39411764698613" x2="242.79999999999995" y2="245.89411764698613" stroke="#1a1ad0" stroke-width="0.7" />
<line x1="244.39999999999995" y1="242.052941176301" x2="244.39999999999995" y2="246.552941176301" stroke="#1a1ad0" stroke-width="0.7" />
<line x1="245.99999999999994" y1="242.71176470561588" x2="245.99999999999994" y2="247.21176470561588" stroke="#1a1ad0" stroke-width="0.7" />
<line x1="247.59999999999994" y1="243.37058823493075" x2="247.59999999999994" y2="247.87058823493075" stroke="#1a1ad0" stroke-width="0.7" />
<line x1="249.19999999999993" y1="243.82941176468682" x2="249.19999999999993" y2="248.32941176468682" stroke="#1a1ad0" stroke-width="0.7" />
<line x1="250.79999999999993" y1="244.08823529406052" x2="250.79999999999993" y2="248.58823529406052" stroke="#1a1ad0" stroke-width="0.7" />
<line x1="252.39999999999992" y1="244.34705882343425" x2="252.39999999999992" y2="248.84705882343425" stroke="#1a1ad0" stroke-width="0.7" />
<line x1="253.99999999999991" y1="244.60588235280795" x2="253.99999999999991" y2="249.10588235280795" stroke="#1a1ad0" stroke-width="0.7" />
<line x1="255.5999999999999" y1="244.83529411764187" x2="255.5999999999999" y2="249.39999999998528" stroke="#1a1ad0" stroke-width="0.7" />
<line x1="257.19999999999993" y1="244.97647058820934" x2="257.19999999999993" y2="249.79999999992646" stroke="#1a1ad0" stroke-width="0.7" />
<line x1="258.79999999999995" y1="245.1176470587768" x2="258.79999999999995" y2="250.19999999986763" stroke="#1a1ad0" stroke-width="0.7" />
<line x1="260.4" y1="245.25882352934428" x2="260.4" y2="250.59999999980883" stroke="#1a1ad0" stroke-width="0.7" />
<line x1="262.0" y1="245.39999999991176" x2="262.0" y2="250.99999999975" stroke="#1a1ad0" stroke-width="0.7" />
<line x1="263.6" y1="245.55999999997334" x2="263.6" y2="251.31999999994667" stroke="#1a1ad0" stroke-width="0.7" />
<line x1="265.20000000000005" y1="245.71999999994668" x2="265.20000000000005" y2="251.63999999989335" stroke="#1a1ad0" stroke-width="0.7" />
<line x1="266.80000000000007" y1="245.87999999992002" x2="266.80000000000007" y2="251.95999999984" stroke="#1a1ad0" stroke-width="0.7" />
<line x1="268.4000000000001" y1="246.01904761904612" x2="268.4000000000001" y2="252.2317460317435" stroke="#1a1ad0" stroke-width="0.7" />
<line x1="270.0000000000001" y1="246.09523809523054" x2="270.0000000000001" y2="252.35873015871755" stroke="#1a1ad0" stroke-width="0.7" />
<line x1="271.60000000000014" y1="246.17142857141496" x2="271.60000000000014" y2="252.4857142856916" stroke="#1a1ad0" stroke-width="0.7" />
<line x1="273.20000000000016" y1="246.2476190475994" x2="273.20000000000016" y2="252.61269841266565" stroke="#1a1ad0" stroke-width="0.7" />
<line x1="274.8000000000002" y1="246.32380952378384" x2="274.8000000000002" y2="252.73968253963972" stroke="#1a1ad0" stroke-width="0.7" />
<line x1="276.4000000000002" y1="246.39999999996826" x2="276.4000000000002" y2="252.86666666661375" stroke="#1a1ad0" stroke-width="0.7" />
<line x1="278.0000000000002" y1="246.47619047615268" x2="278.0000000000002" y2="252.99365079358782" stroke="#1a1ad0" stroke-width="0.7" />
<line x1="279.60000000000025" y1="246.55238095233713" x2="279.60000000000025" y2="253.12063492056186" stroke="#1a1ad0" stroke-width="0.7" />
<line x1="281.2000000000003" y1="246.6331034482736" x2="281.2000000000003" y2="253.34896551723116" stroke="#1a1ad0" stroke-width="0.7" />
<line x1="282.8000000000003" y1="246.72137931033646" x2="282.8000000000003" y2="253.7462068965141" stroke="#1a1ad0" stroke-width="0.7" />
<line x1="284.4000000000003" y1="246.80965517239935" x2="284.4000000000003" y2="254.14344827579708" stroke="#1a1ad0" stroke-width="0.7" />
<line x1="286.00000000000034" y1="246.89793103446223" x2="286.00000000000034" y2="254.54068965508003" stroke="#1a1ad0" stroke-width="0.7" />
<line x1="287.60000000000036" y1="246.98620689652512" x2="287.60000000000036" y2="254.93793103436298" stroke="#1a1ad0" stroke-width="0.7" />
<line x1="289.2000000000004" y1="247.07448275858798" x2="289.2000000000004" y2="255.33517241364595" stroke="#1a1ad0" stroke-width="0.7" />
<line x1="290.8000000000004" y1="247.16275862065086" x2="290.8000000000004" y2="255.7324137929289" stroke="#1a1ad0" stroke-width="0.7" />
<line x1="292.40000000000043" y1="247.25103448271375" x2="292.40000000000043" y2="256.12965517221187" stroke="#1a1ad0" stroke-width="0.7" />
<line x1="294.00000000000045" y1="247.33931034477664" x2="294.00000000000045" y2="256.5268965514948" stroke="#1a1ad0" stroke-width="0.7" />
<line x1="295.6000000000005" y1="247.48749999998915" x2="295.6000000000005" y2="257.11355932198103" stroke="#1a1ad0" stroke-width="0.7" />
<line x1="297.2000000000005" y1="247.76749999995414" x2="297.2000000000005" y2="258.1169491523195" stroke="#1a1ad0" stroke-width="0.7" />
<line x1="298.8000000000005" y1="248.04749999991915" x2="298.8000000000005" y2="259.12033898265787" stroke="#1a1ad0" stroke-width="0.7" />
<line x1="300.40000000000055" y1="248.32749999988417" x2="300.40000000000055" y2="260.1237288129963" stroke="#1a1ad0" stroke-width="0.7" />
<line x1="302.00000000000057" y1="248.60749999984918" x2="302.00000000000057" y2="263.1190476178019" stroke="#1a1ad0" stroke-width="0.7" />
<line x1="303.8" y1="248.5" x2="303.8" y2="274" stroke="#1a1ad0" stroke-width="1.2" />
<path d="M304.50,240.50 C305.75,240.25 307.75,239.67 312.00,239.00 C316.25,238.33 323.67,237.50 330.00,236.50 C336.33,235.50 344.17,234.08 350.00,233.00 C355.83,231.92 360.17,231.08 365.00,230.00 C369.83,228.92 376.67,227.08 379.00,226.50 L379.00,233.00 C376.67,233.58 369.83,235.42 365.00,236.50 C360.17,237.58 355.83,238.42 350.00,239.50 C344.17,240.58 335.83,242.00 330.00,243.00 C324.17,244.00 318.67,244.83 315.00,245.50 C311.33,246.17 309.75,246.25 308.00,247.00 C306.25,247.75 305.08,249.50 304.50,250.00 Z" fill="#f03838" stroke="none" opacity="0.7"/>
<path d="M304.50,240.50 C305.75,240.25 307.75,239.67 312.00,239.00 C316.25,238.33 323.67,237.50 330.00,236.50 C336.33,235.50 344.17,234.08 350.00,233.00 C355.83,231.92 360.17,231.08 365.00,230.00 C369.83,228.92 376.67,227.08 379.00,226.50" stroke="#e01818" stroke-width="1.2" fill="none" stroke-linejoin="round" />
<line x1="305.0" y1="240.40000000001334" x2="305.0" y2="249.57142857155102" stroke="#e02020" stroke-width="0.7" />
<line x1="306.6" y1="240.080000000056" x2="306.6" y2="248.20000000051428" stroke="#e02020" stroke-width="0.7" />
<line x1="308.20000000000005" y1="239.76000000009867" x2="308.20000000000005" y2="246.95714285714897" stroke="#e02020" stroke-width="0.7" />
<line x1="309.80000000000007" y1="239.4400000001413" x2="309.80000000000007" y2="246.6142857143408" stroke="#e02020" stroke-width="0.7" />
<line x1="311.4000000000001" y1="239.12000000018398" x2="311.4000000000001" y2="246.27142857153262" stroke="#e02020" stroke-width="0.7" />
<line x1="313.0000000000001" y1="238.86111111111882" x2="313.0000000000001" y2="245.92857142872447" stroke="#e02020" stroke-width="0.7" />
<line x1="314.60000000000014" y1="238.63888888890892" x2="314.60000000000014" y2="245.5857142859163" stroke="#e02020" stroke-width="0.7" />
<line x1="316.20000000000016" y1="238.41666666669906" x2="316.20000000000016" y2="245.3000000000133" stroke="#e02020" stroke-width="0.7" />
<line x1="317.8000000000002" y1="238.19444444448916" x2="317.8000000000002" y2="245.03333333336442" stroke="#e02020" stroke-width="0.7" />
<line x1="319.4000000000002" y1="237.9722222222793" x2="319.4000000000002" y2="244.7666666667155" stroke="#e02020" stroke-width="0.7" />
<line x1="321.0000000000002" y1="237.7500000000694" x2="321.0000000000002" y2="244.50000000006662" stroke="#e02020" stroke-width="0.7" />
<line x1="322.60000000000025" y1="237.52777777785954" x2="322.60000000000025" y2="244.23333333341773" stroke="#e02020" stroke-width="0.7" />
<line x1="324.2000000000003" y1="237.30555555564965" x2="324.2000000000003" y2="243.96666666676884" stroke="#e02020" stroke-width="0.7" />
<line x1="325.8000000000003" y1="237.08333333343978" x2="325.8000000000003" y2="243.70000000011996" stroke="#e02020" stroke-width="0.7" />
<line x1="327.4000000000003" y1="236.8611111112299" x2="327.4000000000003" y2="243.43333333347107" stroke="#e02020" stroke-width="0.7" />
<line x1="329.00000000000034" y1="236.63888888902002" x2="329.00000000000034" y2="243.16666666682215" stroke="#e02020" stroke-width="0.7" />
<line x1="330.60000000000036" y1="236.39500000000518" x2="330.60000000000036" y2="242.89500000000518" stroke="#e02020" stroke-width="0.7" />
<line x1="332.2000000000004" y1="236.1150000000192" x2="332.2000000000004" y2="242.6150000000192" stroke="#e02020" stroke-width="0.7" />
<line x1="333.8000000000004" y1="235.83500000003318" x2="333.8000000000004" y2="242.33500000003318" stroke="#e02020" stroke-width="0.7" />
<line x1="335.40000000000043" y1="235.5550000000472" x2="335.40000000000043" y2="242.0550000000472" stroke="#e02020" stroke-width="0.7" />
<line x1="337.00000000000045" y1="235.27500000006117" x2="337.00000000000045" y2="241.77500000006117" stroke="#e02020" stroke-width="0.7" />
<line x1="338.6000000000005" y1="234.99500000007518" x2="338.6000000000005" y2="241.49500000007518" stroke="#e02020" stroke-width="0.7" />
<line x1="340.2000000000005" y1="234.71500000008916" x2="340.2000000000005" y2="241.21500000008916" stroke="#e02020" stroke-width="0.7" />
<line x1="341.8000000000005" y1="234.43500000010317" x2="341.8000000000005" y2="240.93500000010317" stroke="#e02020" stroke-width="0.7" />
<line x1="343.40000000000055" y1="234.15500000011716" x2="343.40000000000055" y2="240.65500000011716" stroke="#e02020" stroke-width="0.7" />
<line x1="345.00000000000057" y1="233.87500000013114" x2="345.00000000000057" y2="240.37500000013114" stroke="#e02020" stroke-width="0.7" />
<line x1="346.6000000000006" y1="233.59500000014515" x2="346.6000000000006" y2="240.09500000014515" stroke="#e02020" stroke-width="0.7" />
<line x1="348.2000000000006" y1="233.31500000015913" x2="348.2000000000006" y2="239.81500000015913" stroke="#e02020" stroke-width="0.7" />
<line x1="349.80000000000064" y1="233.03500000017314" x2="349.80000000000064" y2="239.53500000017314" stroke="#e02020" stroke-width="0.7" />
<line x1="351.40000000000066" y1="232.72000000001853" x2="351.40000000000066" y2="239.22000000001853" stroke="#e02020" stroke-width="0.7" />
<line x1="353.0000000000007" y1="232.40000000003985" x2="353.0000000000007" y2="238.90000000003985" stroke="#e02020" stroke-width="0.7" />
<line x1="354.6000000000007" y1="232.0800000000612" x2="354.6000000000007" y2="238.5800000000612" stroke="#e02020" stroke-width="0.7" />
<line x1="356.2000000000007" y1="231.76000000008253" x2="356.2000000000007" y2="238.26000000008253" stroke="#e02020" stroke-width="0.7" />
<line x1="357.80000000000075" y1="231.44000000010385" x2="357.80000000000075" y2="237.94000000010385" stroke="#e02020" stroke-width="0.7" />
<line x1="359.4000000000008" y1="231.12000000012517" x2="359.4000000000008" y2="237.62000000012517" stroke="#e02020" stroke-width="0.7" />
<line x1="361.0000000000008" y1="230.8000000001465" x2="361.0000000000008" y2="237.3000000001465" stroke="#e02020" stroke-width="0.7" />
<line x1="362.6000000000008" y1="230.48000000016785" x2="362.6000000000008" y2="236.98000000016785" stroke="#e02020" stroke-width="0.7" />
<line x1="364.20000000000084" y1="230.16000000018917" x2="364.20000000000084" y2="236.66000000018917" stroke="#e02020" stroke-width="0.7" />
<line x1="365.80000000000086" y1="229.80000000001408" x2="365.80000000000086" y2="236.30000000001408" stroke="#e02020" stroke-width="0.7" />
<line x1="367.4000000000009" y1="229.40000000004264" x2="367.4000000000009" y2="235.90000000004264" stroke="#e02020" stroke-width="0.7" />
<line x1="369.0000000000009" y1="229.0000000000712" x2="369.0000000000009" y2="235.5000000000712" stroke="#e02020" stroke-width="0.7" />
<line x1="370.60000000000093" y1="228.60000000009975" x2="370.60000000000093" y2="235.10000000009975" stroke="#e02020" stroke-width="0.7" />
<line x1="372.20000000000095" y1="228.20000000012834" x2="372.20000000000095" y2="234.70000000012834" stroke="#e02020" stroke-width="0.7" />
<line x1="373.800000000001" y1="227.8000000001569" x2="373.800000000001" y2="234.3000000001569" stroke="#e02020" stroke-width="0.7" />
<line x1="375.400000000001" y1="227.40000000018546" x2="375.400000000001" y2="233.90000000018546" stroke="#e02020" stroke-width="0.7" />
<line x1="377.000000000001" y1="227.00000000021404" x2="377.000000000001" y2="233.50000000021404" stroke="#e02020" stroke-width="0.7" />
<line x1="378.60000000000105" y1="226.6000000002426" x2="378.60000000000105" y2="233.1000000002426" stroke="#e02020" stroke-width="0.7" />
<rect x="228.9" y="164.8" width="150.49999999999997" height="117.80000000000001" fill="none" stroke="#111" stroke-width="1.25" />
<line x1="228.9" y1="223.2" x2="379.4" y2="223.2" stroke="#111" stroke-width="1.1" />
<line x1="225.9" y1="173.8" x2="228.9" y2="173.8" stroke="#111" stroke-width="0.9" />
<text x="225.5" y="176.4" font-size="8.2" text-anchor="end" font-weight="bold" fill="#111" stroke="#111" stroke-width="0.22" style="">-10</text>
<line x1="225.9" y1="191.45000000000002" x2="228.9" y2="191.45000000000002" stroke="#111" stroke-width="0.9" />
<text x="225.5" y="194.05" font-size="8.2" text-anchor="end" font-weight="bold" fill="#111" stroke="#111" stroke-width="0.22" style="">-12</text>
<line x1="225.9" y1="209.10000000000002" x2="228.9" y2="209.10000000000002" stroke="#111" stroke-width="0.9" />
<text x="225.5" y="211.70000000000002" font-size="8.2" text-anchor="end" font-weight="bold" fill="#111" stroke="#111" stroke-width="0.22" style="">-14</text>
<line x1="226.9" y1="182.6" x2="228.9" y2="182.6" stroke="#111" stroke-width="0.9" />
<line x1="226.9" y1="200.3" x2="228.9" y2="200.3" stroke="#111" stroke-width="0.9" />
<line x1="226.9" y1="218" x2="228.9" y2="218" stroke="#111" stroke-width="0.9" />
<line x1="225.9" y1="237.0" x2="228.9" y2="237.0" stroke="#111" stroke-width="0.9" />
<text x="225.5" y="239.6" font-size="8.2" text-anchor="end" font-weight="bold" fill="#111" stroke="#111" stroke-width="0.22" style="">1.6</text>
<line x1="225.9" y1="250.8" x2="228.9" y2="250.8" stroke="#111" stroke-width="0.9" />
<text x="225.5" y="253.4" font-size="8.2" text-anchor="end" font-weight="bold" fill="#111" stroke="#111" stroke-width="0.22" style="">1.2</text>
<line x1="225.9" y1="264.6" x2="228.9" y2="264.6" stroke="#111" stroke-width="0.9" />
<text x="225.5" y="267.20000000000005" font-size="8.2" text-anchor="end" font-weight="bold" fill="#111" stroke="#111" stroke-width="0.22" style="">0.8</text>
<line x1="225.9" y1="278.4" x2="228.9" y2="278.4" stroke="#111" stroke-width="0.9" />
<text x="225.5" y="281.0" font-size="8.2" text-anchor="end" font-weight="bold" fill="#111" stroke="#111" stroke-width="0.22" style="">0.4</text>
<line x1="226.9" y1="230.1" x2="228.9" y2="230.1" stroke="#111" stroke-width="0.9" />
<line x1="226.9" y1="243.9" x2="228.9" y2="243.9" stroke="#111" stroke-width="0.9" />
<line x1="226.9" y1="257.7" x2="228.9" y2="257.7" stroke="#111" stroke-width="0.9" />
<line x1="226.9" y1="271.5" x2="228.9" y2="271.5" stroke="#111" stroke-width="0.9" />
<line x1="229.2" y1="282.6" x2="229.2" y2="285.6" stroke="#111" stroke-width="0.9" />
<text x="229.2" y="294.2" font-size="8.2" text-anchor="middle" font-weight="bold" fill="#111" stroke="#111" stroke-width="0.22" style="">0</text>
<line x1="241.53" y1="282.6" x2="241.53" y2="284.6" stroke="#111" stroke-width="0.9" />
<line x1="253.85999999999999" y1="282.6" x2="253.85999999999999" y2="285.6" stroke="#111" stroke-width="0.9" />
<text x="253.85999999999999" y="294.2" font-size="8.2" text-anchor="middle" font-weight="bold" fill="#111" stroke="#111" stroke-width="0.22" style="">30</text>
<line x1="266.19" y1="282.6" x2="266.19" y2="284.6" stroke="#111" stroke-width="0.9" />
<line x1="278.52" y1="282.6" x2="278.52" y2="285.6" stroke="#111" stroke-width="0.9" />
<text x="278.52" y="294.2" font-size="8.2" text-anchor="middle" font-weight="bold" fill="#111" stroke="#111" stroke-width="0.22" style="">60</text>
<line x1="290.84999999999997" y1="282.6" x2="290.84999999999997" y2="284.6" stroke="#111" stroke-width="0.9" />
<line x1="303.18" y1="282.6" x2="303.18" y2="285.6" stroke="#111" stroke-width="0.9" />
<text x="303.18" y="294.2" font-size="8.2" text-anchor="middle" font-weight="bold" fill="#111" stroke="#111" stroke-width="0.22" style="">90</text>
<line x1="315.51" y1="282.6" x2="315.51" y2="284.6" stroke="#111" stroke-width="0.9" />
<line x1="327.84" y1="282.6" x2="327.84" y2="285.6" stroke="#111" stroke-width="0.9" />
<text x="327.84" y="294.2" font-size="8.2" text-anchor="middle" font-weight="bold" fill="#111" stroke="#111" stroke-width="0.22" style="">120</text>
<line x1="340.16999999999996" y1="282.6" x2="340.16999999999996" y2="284.6" stroke="#111" stroke-width="0.9" />
<line x1="352.5" y1="282.6" x2="352.5" y2="285.6" stroke="#111" stroke-width="0.9" />
<text x="352.5" y="294.2" font-size="8.2" text-anchor="middle" font-weight="bold" fill="#111" stroke="#111" stroke-width="0.22" style="">150</text>
<line x1="364.83" y1="282.6" x2="364.83" y2="284.6" stroke="#111" stroke-width="0.9" />
<line x1="377.15999999999997" y1="282.6" x2="377.15999999999997" y2="285.6" stroke="#111" stroke-width="0.9" />
<text x="377.15999999999997" y="294.2" font-size="8.2" text-anchor="middle" font-weight="bold" fill="#111" stroke="#111" stroke-width="0.22" style="">180</text>
<text x="305.8" y="302.7" font-size="9.4" text-anchor="middle" font-weight="bold" fill="#111" stroke="#111" stroke-width="0.22" style="letter-spacing:0.4px">Time (h)</text>
<text x="207.2" y="192.8" font-size="9.5" text-anchor="middle" font-weight="bold" fill="#111" stroke="#111" stroke-width="0.22" transform="rotate(-90 207.2 192.8)" style="">Log <tspan font-style="italic">D</tspan><tspan font-size="6" baseline-shift="-30%">ion</tspan></text>
<text x="208.3" y="254.8" font-size="10.2" text-anchor="middle" font-weight="bold" fill="#111" stroke="#111" stroke-width="0.22" transform="rotate(-90 208.3 254.8)" style="">Voltage (V)</text>
<text x="233.2" y="175.8" font-size="7.5" text-anchor="start" font-weight="bold" fill="#111" stroke="#111" stroke-width="0.22" style="">Unit: cm<tspan font-size="62%" baseline-shift="55%">2</tspan> s<tspan font-size="62%" baseline-shift="55%">-1</tspan></text>
<text x="305.2" y="214.8" font-size="7.8" text-anchor="middle" font-weight="bold" fill="#111" stroke="#111" stroke-width="0.22" style="">H<tspan font-size="62%" baseline-shift="55%">+</tspan> and NH<tspan font-size="62%" baseline-shift="-30%">4</tspan><tspan font-size="62%" baseline-shift="55%">+</tspan></text>
<text x="266.0" y="266.5" font-size="8.2" text-anchor="middle" font-weight="bold" fill="#111" stroke="#111" stroke-width="0.22" style="">Discharge</text>
<text x="342.0" y="266.5" font-size="8.2" text-anchor="middle" font-weight="bold" fill="#111" stroke="#111" stroke-width="0.22" style="">Charge</text>
<text x="393.2" y="168.2" font-size="17.5" text-anchor="middle" font-weight="normal" fill="#111" style="">f</text>
<path d="M418,170.5 H457.5 V265 H461.5 V170.5 H535.2 V265.5 H539 V170.5 H568.7" fill="none" stroke="#d88a90" stroke-width="1.1"/>
<rect x="457.9" y="170.5" width="3.2" height="94.2" fill="#fae0e4"/>
<rect x="535.6" y="170.5" width="3.0" height="94.7" fill="#fae0e4"/>
<path d="M457.5,170.5 V265 H461.5 V170.5 M535.2,170.5 V265.5 H539 V170.5" fill="none" stroke="#d8909a" stroke-width="1.0"/>
<line x1="418" y1="170.5" x2="457.5" y2="170.5" stroke="#d88890" stroke-width="1.1" />
<line x1="461.5" y1="170.5" x2="535.2" y2="170.5" stroke="#d88890" stroke-width="1.1" />
<line x1="462" y1="185.5" x2="535" y2="185.5" stroke="#999" stroke-width="0.8" stroke-dasharray="1,1.2"/>
<line x1="466" y1="204.4" x2="535" y2="204.4" stroke="#111" stroke-width="0.8" stroke-dasharray="1.2,1"/>
<path d="M417.80,182.30 C419.00,182.50 421.30,183.08 425.00,183.50 C428.70,183.92 434.58,184.38 440.00,184.80 C445.42,185.22 454.58,185.80 457.50,186.00" stroke="#2a2a9a" stroke-width="1.2" fill="none" stroke-linejoin="round" />
<path d="M457.60,186.00 C457.82,190.83 458.42,205.17 458.90,215.00 C459.38,224.83 460.23,240.00 460.50,245.00" stroke="#3a20b0" stroke-width="1.2" fill="none" stroke-linejoin="round" />
<path d="M460.50,245.00 C460.67,243.33 461.17,238.33 461.50,235.00 C461.83,231.67 462.08,228.08 462.50,225.00 C462.92,221.92 463.25,218.92 464.00,216.50 C464.75,214.08 465.67,212.08 467.00,210.50 C468.33,208.92 469.83,207.88 472.00,207.00 C474.17,206.12 476.17,205.62 480.00,205.20 C483.83,204.78 485.83,204.60 495.00,204.50 C504.17,204.40 528.33,204.58 535.00,204.60" stroke="#2a2aa0" stroke-width="1.3" fill="none" stroke-linejoin="round" />
<path d="M535.20,204.60 C535.37,208.00 535.87,217.60 536.20,225.00 C536.53,232.40 537.03,245.00 537.20,249.00" stroke="#3a20b0" stroke-width="1.4" fill="none" stroke-linejoin="round" />
<path d="M537.20,249.00 C537.37,247.50 537.82,242.67 538.20,240.00 C538.58,237.33 538.70,235.00 539.50,233.00 C540.30,231.00 541.25,229.42 543.00,228.00 C544.75,226.58 547.50,225.50 550.00,224.50 C552.50,223.50 554.92,222.62 558.00,222.00 C561.08,221.38 566.75,221.00 568.50,220.80" stroke="#2a2aa0" stroke-width="1.4" fill="none" stroke-linejoin="round" />
<rect x="417.7" y="164.5" width="151.00000000000006" height="117.69999999999999" fill="none" stroke="#111" stroke-width="1.25" />
<line x1="568.7" y1="164.5" x2="568.7" y2="282.2" stroke="#b83a3a" stroke-width="1.2" />
<line x1="414.7" y1="164.4" x2="417.7" y2="164.4" stroke="#111" stroke-width="0.9" />
<text x="414.5" y="167.0" font-size="8.2" text-anchor="end" font-weight="bold" fill="#111" stroke="#111" stroke-width="0.22" style="">1.75</text>
<line x1="414.7" y1="186.9" x2="417.7" y2="186.9" stroke="#111" stroke-width="0.9" />
<text x="414.5" y="189.5" font-size="8.2" text-anchor="end" font-weight="bold" fill="#111" stroke="#111" stroke-width="0.22" style="">1.70</text>
<line x1="414.7" y1="210.4" x2="417.7" y2="210.4" stroke="#111" stroke-width="0.9" />
<text x="414.5" y="213.0" font-size="8.2" text-anchor="end" font-weight="bold" fill="#111" stroke="#111" stroke-width="0.22" style="">1.65</text>
<line x1="414.7" y1="234.3" x2="417.7" y2="234.3" stroke="#111" stroke-width="0.9" />
<text x="414.5" y="236.9" font-size="8.2" text-anchor="end" font-weight="bold" fill="#111" stroke="#111" stroke-width="0.22" style="">1.60</text>
<line x1="414.7" y1="258.3" x2="417.7" y2="258.3" stroke="#111" stroke-width="0.9" />
<text x="414.5" y="260.90000000000003" font-size="8.2" text-anchor="end" font-weight="bold" fill="#111" stroke="#111" stroke-width="0.22" style="">1.55</text>
<line x1="414.7" y1="282.1" x2="417.7" y2="282.1" stroke="#111" stroke-width="0.9" />
<text x="414.5" y="284.70000000000005" font-size="8.2" text-anchor="end" font-weight="bold" fill="#111" stroke="#111" stroke-width="0.22" style="">1.50</text>
<line x1="415.7" y1="175.65" x2="417.7" y2="175.65" stroke="#111" stroke-width="0.9" />
<line x1="415.7" y1="198.65" x2="417.7" y2="198.65" stroke="#111" stroke-width="0.9" />
<line x1="415.7" y1="222.35000000000002" x2="417.7" y2="222.35000000000002" stroke="#111" stroke-width="0.9" />
<line x1="415.7" y1="246.3" x2="417.7" y2="246.3" stroke="#111" stroke-width="0.9" />
<line x1="415.7" y1="270.20000000000005" x2="417.7" y2="270.20000000000005" stroke="#111" stroke-width="0.9" />
<line x1="568.7" y1="170.7" x2="571.7" y2="170.7" stroke="#b83a3a" stroke-width="0.9" />
<text x="572.3" y="173.29999999999998" font-size="7.6" text-anchor="start" font-weight="bold" fill="#b83a3a" stroke="#b83a3a" stroke-width="0.22" style="">0</text>
<line x1="568.7" y1="198.39999999999998" x2="571.7" y2="198.39999999999998" stroke="#b83a3a" stroke-width="0.9" />
<text x="572.3" y="200.99999999999997" font-size="7.6" text-anchor="start" font-weight="bold" fill="#b83a3a" stroke="#b83a3a" stroke-width="0.22" style="">-20</text>
<line x1="568.7" y1="226.1" x2="571.7" y2="226.1" stroke="#b83a3a" stroke-width="0.9" />
<text x="572.3" y="228.7" font-size="7.6" text-anchor="start" font-weight="bold" fill="#b83a3a" stroke="#b83a3a" stroke-width="0.22" style="">-40</text>
<line x1="568.7" y1="253.79999999999998" x2="571.7" y2="253.79999999999998" stroke="#b83a3a" stroke-width="0.9" />
<text x="572.3" y="256.4" font-size="7.6" text-anchor="start" font-weight="bold" fill="#b83a3a" stroke="#b83a3a" stroke-width="0.22" style="">-60</text>
<line x1="568.7" y1="281.5" x2="571.7" y2="281.5" stroke="#b83a3a" stroke-width="0.9" />
<text x="572.3" y="284.1" font-size="7.6" text-anchor="start" font-weight="bold" fill="#b83a3a" stroke="#b83a3a" stroke-width="0.22" style="">-80</text>
<line x1="568.7" y1="184.54999999999998" x2="570.7" y2="184.54999999999998" stroke="#b83a3a" stroke-width="0.9" />
<line x1="568.7" y1="212.25" x2="570.7" y2="212.25" stroke="#b83a3a" stroke-width="0.9" />
<line x1="568.7" y1="239.95" x2="570.7" y2="239.95" stroke="#b83a3a" stroke-width="0.9" />
<line x1="568.7" y1="267.65" x2="570.7" y2="267.65" stroke="#b83a3a" stroke-width="0.9" />
<line x1="418.0" y1="282.2" x2="418.0" y2="285.2" stroke="#111" stroke-width="0.9" />
<text x="418.0" y="292.2" font-size="8.2" text-anchor="middle" font-weight="bold" fill="#111" stroke="#111" stroke-width="0.22" style="">1</text>
<line x1="455.6" y1="282.2" x2="455.6" y2="285.2" stroke="#111" stroke-width="0.9" />
<text x="455.6" y="292.2" font-size="8.2" text-anchor="middle" font-weight="bold" fill="#111" stroke="#111" stroke-width="0.22" style="">2</text>
<line x1="493.2" y1="282.2" x2="493.2" y2="285.2" stroke="#111" stroke-width="0.9" />
<text x="493.2" y="292.2" font-size="8.2" text-anchor="middle" font-weight="bold" fill="#111" stroke="#111" stroke-width="0.22" style="">3</text>
<line x1="530.8" y1="282.2" x2="530.8" y2="285.2" stroke="#111" stroke-width="0.9" />
<text x="530.8" y="292.2" font-size="8.2" text-anchor="middle" font-weight="bold" fill="#111" stroke="#111" stroke-width="0.22" style="">4</text>
<line x1="568.4" y1="282.2" x2="568.4" y2="285.2" stroke="#111" stroke-width="0.9" />
<text x="568.4" y="292.2" font-size="8.2" text-anchor="middle" font-weight="bold" fill="#111" stroke="#111" stroke-width="0.22" style="">5</text>
<line x1="436.8" y1="282.2" x2="436.8" y2="284.2" stroke="#111" stroke-width="0.9" />
<line x1="474.4" y1="282.2" x2="474.4" y2="284.2" stroke="#111" stroke-width="0.9" />
<line x1="512.0" y1="282.2" x2="512.0" y2="284.2" stroke="#111" stroke-width="0.9" />
<line x1="549.6" y1="282.2" x2="549.6" y2="284.2" stroke="#111" stroke-width="0.9" />
<text x="492.6" y="300.8" font-size="9.8" text-anchor="middle" font-weight="bold" fill="#111" stroke="#111" stroke-width="0.22" style="">Time (h)</text>
<text x="395.8" y="218.4" font-size="9.2" text-anchor="middle" font-weight="bold" fill="#111" stroke="#111" stroke-width="0.22" transform="rotate(-90 395.8 218.4)" style="">Voltage (V)</text>
<text x="593.6" y="226.4" font-size="9.8" text-anchor="middle" font-weight="bold" fill="#b83a3a" stroke="#b83a3a" stroke-width="0.22" transform="rotate(-90 593.6 226.4)" style="">Current (µA)</text>
<line x1="502.3" y1="186.5" x2="502.3" y2="203.2" stroke="#222" stroke-width="0.8" />
<path d="M500.9,188.3 L502.3,185.6 L503.7,188.3 M500.9,201.4 L502.3,204.1 L503.7,201.4" fill="none" stroke="#222" stroke-width="0.7"/>
<text x="504.2" y="198.2" font-size="7.3" text-anchor="start" font-weight="bold" fill="#111" stroke="#111" stroke-width="0.22" style="">Δ<tspan font-style="italic">E</tspan><tspan font-size="5" baseline-shift="-30%">s</tspan></text>
<line x1="445.6" y1="205.7" x2="445.6" y2="246" stroke="#555" stroke-width="0.8" />
<path d="M444.3,208.2 L445.6,205.5 L446.9,208.2 M444.3,243.5 L445.6,246.2 L446.9,243.5" fill="none" stroke="#555" stroke-width="0.7"/>
<text x="431" y="228.8" font-size="6.6" text-anchor="start" font-weight="bold" fill="#555" stroke="#555" stroke-width="0.22" style="">Δ<tspan font-style="italic">E</tspan><tspan font-size="4.5" baseline-shift="-30%">t</tspan></text>
<line x1="454" y1="256.8" x2="458" y2="256.8" stroke="#111" stroke-width="1.2" />
<line x1="461" y1="256.8" x2="465.5" y2="256.8" stroke="#111" stroke-width="1.2" />
<line x1="457.6" y1="255.2" x2="457.6" y2="258.4" stroke="#111" stroke-width="0.9" />
<line x1="461.4" y1="255.2" x2="461.4" y2="258.4" stroke="#111" stroke-width="0.9" />
<text x="465.6" y="264.3" font-size="8.1" text-anchor="start" font-weight="bold" fill="#111" stroke="#111" stroke-width="0.22" style=""><tspan font-style="italic">τ</tspan> = 4 min</text>
<line x1="462.5" y1="213.3" x2="465" y2="213.3" stroke="#111" stroke-width="1" />
<line x1="532" y1="213.3" x2="535" y2="213.3" stroke="#111" stroke-width="1" />
<text x="500" y="222.0" font-size="7.9" text-anchor="middle" font-weight="bold" fill="#111" stroke="#111" stroke-width="0.05" style="">Relaxation time</text>
</svg></body></html>
